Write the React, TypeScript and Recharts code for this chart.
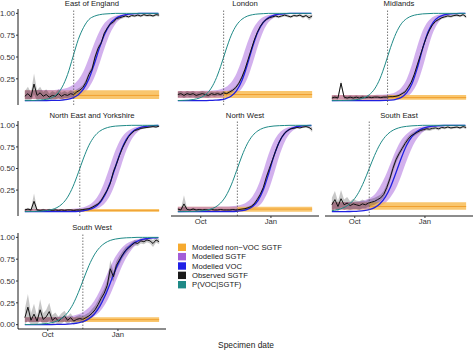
import React from 'react';
import { ComposedChart, Area, Line, XAxis, YAxis, ReferenceLine } from 'recharts';

// regions in facet order
const regions = [
  'East of England',
  'London',
  'Midlands',
  'North East and Yorkshire',
  'North West',
  'South East',
  'South West',
];

// days since 1 Sep 2020
const modelDays = [0, 7, 14, 21, 28, 35, 42, 49, 56, 63, 70, 77, 84, 91, 98, 105, 112, 119, 126, 133, 140, 147, 154, 161, 168, 175];
const obsDays = [
  0, 4, 8, 12, 16, 20, 24, 28, 32, 36, 40, 44, 48, 52, 56, 60, 64, 68, 72, 76, 80, 84, 88,
  92, 96, 100, 104, 108, 112, 116, 120, 124, 128, 132, 136, 140, 144, 148, 152, 156, 160,
  164, 168, 172, 176,
];
const axisDays = [30, 122];
const axisLabels = ['Oct', 'Jan'];
const yTicks = [0, 0.25, 0.5, 0.75, 1];

// dotted line: date the VOC is seeded
const introDay = [64, 60, 73, 72, 78, 49, 76];

const nonVocLo = [0.02, 0.03, 0.01, 0, 0, 0.023, 0.03];
const nonVocMid = [0.06, 0.07, 0.035, 0.012, 0.03, 0.06, 0.057];
const nonVocHi = [0.12, 0.11, 0.065, 0.03, 0.058, 0.108, 0.084];

const pVocSgtf = [
  [0, 0.001, 0.003, 0.007, 0.015, 0.033, 0.074, 0.157, 0.3, 0.5, 0.7, 0.84, 0.93, 0.967, 0.985, 0.993, 0.997, 1, 1, 1, 1, 1, 1, 1, 1, 1],
  [0.001, 0.003, 0.006, 0.014, 0.029, 0.06, 0.121, 0.23, 0.39, 0.58, 0.75, 0.866, 0.933, 0.968, 0.985, 0.993, 0.997, 1, 1, 1, 1, 1, 1, 1, 1, 1],
  [0, 0.001, 0.002, 0.003, 0.007, 0.015, 0.032, 0.067, 0.134, 0.25, 0.42, 0.61, 0.77, 0.88, 0.94, 0.971, 0.986, 0.994, 0.997, 1, 1, 1, 1, 1, 1, 1],
  [0.001, 0.002, 0.003, 0.006, 0.012, 0.024, 0.047, 0.091, 0.168, 0.289, 0.45, 0.622, 0.769, 0.87, 0.931, 0.964, 0.982, 0.991, 0.995, 0.998, 1, 1, 1, 1, 1, 1],
  [0, 0.001, 0.002, 0.003, 0.007, 0.013, 0.027, 0.052, 0.1, 0.182, 0.31, 0.475, 0.646, 0.786, 0.881, 0.937, 0.968, 0.984, 0.992, 0.996, 0.998, 1, 1, 1, 1, 1],
  [0.012, 0.022, 0.041, 0.074, 0.131, 0.221, 0.348, 0.5, 0.652, 0.779, 0.869, 0.926, 0.959, 0.978, 0.988, 0.994, 0.997, 1, 1, 1, 1, 1, 1, 1, 1, 1],
  [0.001, 0.002, 0.003, 0.006, 0.012, 0.022, 0.042, 0.077, 0.137, 0.232, 0.366, 0.523, 0.677, 0.799, 0.883, 0.935, 0.965, 0.981, 0.99, 0.995, 0.997, 1, 1, 1, 1, 1],
];

const modelledVoc = [
  [0, 0, 0, 0, 0.001, 0.002, 0.003, 0.007, 0.015, 0.032, 0.067, 0.134, 0.25, 0.42, 0.61, 0.77, 0.88, 0.94, 0.971, 0.986, 0.994, 0.997, 1, 1, 1, 1],
  [0, 0, 0, 0, 0, 0.001, 0.002, 0.005, 0.01, 0.024, 0.053, 0.115, 0.23, 0.41, 0.618, 0.79, 0.897, 0.953, 0.979, 0.991, 0.996, 1, 1, 1, 1, 1],
  [0, 0, 0, 0, 0, 0, 0, 0, 0, 0.001, 0.003, 0.006, 0.015, 0.037, 0.088, 0.193, 0.373, 0.596, 0.786, 0.901, 0.958, 0.982, 0.993, 0.997, 1, 1],
  [0, 0, 0, 0, 0, 0, 0, 0, 0.001, 0.002, 0.005, 0.011, 0.023, 0.049, 0.1, 0.193, 0.341, 0.527, 0.707, 0.839, 0.918, 0.96, 0.981, 0.991, 0.996, 0.998],
  [0, 0, 0, 0, 0, 0, 0, 0, 0, 0.001, 0.002, 0.005, 0.012, 0.027, 0.06, 0.128, 0.253, 0.44, 0.646, 0.808, 0.907, 0.958, 0.981, 0.992, 0.996, 0.998],
  [0, 0, 0.001, 0.002, 0.003, 0.006, 0.012, 0.024, 0.047, 0.091, 0.168, 0.289, 0.45, 0.622, 0.769, 0.87, 0.931, 0.964, 0.982, 0.991, 0.995, 0.998, 1, 1, 1, 1],
  [0, 0, 0, 0, 0, 0.001, 0.002, 0.003, 0.006, 0.011, 0.02, 0.038, 0.069, 0.121, 0.206, 0.327, 0.478, 0.632, 0.763, 0.858, 0.919, 0.955, 0.976, 0.987, 0.993, 0.996],
];

const sgtfLo = [
  [0.02, 0.02, 0.02, 0.02, 0.02, 0.021, 0.022, 0.023, 0.027, 0.035, 0.051, 0.086, 0.151, 0.265, 0.432, 0.618, 0.775, 0.882, 0.941, 0.972, 0.986, 0.994, 0.997, 1, 1, 1],
  [0.03, 0.03, 0.03, 0.03, 0.03, 0.03, 0.031, 0.032, 0.035, 0.04, 0.053, 0.081, 0.142, 0.253, 0.428, 0.629, 0.796, 0.9, 0.954, 0.98, 0.991, 0.996, 1, 1, 1, 1],
  [0.01, 0.01, 0.01, 0.01, 0.01, 0.01, 0.01, 0.01, 0.01, 0.01, 0.011, 0.013, 0.016, 0.025, 0.047, 0.097, 0.201, 0.379, 0.6, 0.788, 0.902, 0.958, 0.982, 0.993, 0.997, 1],
  [0, 0, 0, 0, 0, 0, 0, 0, 0, 0.001, 0.002, 0.005, 0.011, 0.023, 0.049, 0.1, 0.193, 0.341, 0.527, 0.707, 0.839, 0.918, 0.96, 0.981, 0.991, 0.996],
  [0, 0, 0, 0, 0, 0, 0, 0, 0, 0, 0.001, 0.002, 0.005, 0.012, 0.027, 0.06, 0.128, 0.253, 0.44, 0.646, 0.808, 0.907, 0.958, 0.981, 0.992, 0.996],
  [0.023, 0.023, 0.023, 0.024, 0.025, 0.026, 0.029, 0.035, 0.046, 0.065, 0.1, 0.17, 0.27, 0.42, 0.59, 0.74, 0.85, 0.92, 0.96, 0.98, 0.99, 0.995, 0.998, 1, 1, 1],
  [0.03, 0.03, 0.03, 0.03, 0.03, 0.03, 0.031, 0.032, 0.033, 0.036, 0.041, 0.049, 0.067, 0.097, 0.147, 0.23, 0.347, 0.494, 0.643, 0.77, 0.862, 0.921, 0.956, 0.976, 0.987, 0.993],
];

const sgtfHi = [
  [0.12, 0.12, 0.12, 0.121, 0.122, 0.123, 0.126, 0.133, 0.148, 0.179, 0.238, 0.34, 0.49, 0.657, 0.798, 0.894, 0.947, 0.974, 0.988, 0.995, 0.997, 1, 1, 1, 1, 1],
  [0.11, 0.11, 0.11, 0.11, 0.111, 0.112, 0.114, 0.119, 0.131, 0.157, 0.212, 0.315, 0.475, 0.66, 0.813, 0.908, 0.958, 0.981, 0.992, 0.996, 1, 1, 1, 1, 1, 1],
  [0.065, 0.065, 0.065, 0.065, 0.065, 0.065, 0.065, 0.065, 0.066, 0.068, 0.071, 0.079, 0.1, 0.147, 0.245, 0.414, 0.622, 0.8, 0.907, 0.961, 0.983, 0.993, 0.997, 1, 1, 1],
  [0.03, 0.03, 0.03, 0.03, 0.03, 0.03, 0.03, 0.031, 0.032, 0.035, 0.041, 0.052, 0.078, 0.127, 0.217, 0.361, 0.541, 0.716, 0.844, 0.92, 0.961, 0.982, 0.991, 0.996, 0.998, 1],
  [0.058, 0.058, 0.058, 0.058, 0.058, 0.058, 0.058, 0.058, 0.059, 0.06, 0.063, 0.069, 0.083, 0.115, 0.179, 0.296, 0.472, 0.667, 0.819, 0.912, 0.96, 0.982, 0.992, 0.996, 0.998, 1],
  [0.108, 0.109, 0.11, 0.111, 0.113, 0.119, 0.129, 0.155, 0.2, 0.29, 0.41, 0.56, 0.71, 0.83, 0.9, 0.95, 0.972, 0.985, 0.992, 0.996, 0.998, 1, 1, 1, 1, 1],
  [0.084, 0.084, 0.084, 0.084, 0.085, 0.086, 0.087, 0.089, 0.094, 0.102, 0.119, 0.147, 0.195, 0.273, 0.384, 0.522, 0.663, 0.783, 0.87, 0.926, 0.959, 0.978, 0.988, 0.994, 0.996, 0.998],
];

const observedSgtf = [
  [0.05, 0.08, 0.04, 0.19, 0.06, 0.09, 0.05, 0.07, 0.04, 0.06, 0.05, 0.08, 0.05, 0.07, 0.06, 0.08, 0.07, 0.1, 0.12, 0.15, 0.21, 0.3, 0.36, 0.5, 0.6, 0.66, 0.77, 0.83, 0.88, 0.9, 0.94, 0.95, 0.96, 0.97, 0.96, 0.975, 0.97, 0.98, 0.97, 0.985, 0.975, 0.98, 0.97, 0.985, 0.98],
  [0.07, 0.08, 0.06, 0.08, 0.07, 0.08, 0.06, 0.07, 0.08, 0.07, 0.06, 0.08, 0.07, 0.08, 0.07, 0.09, 0.08, 0.1, 0.12, 0.15, 0.2, 0.27, 0.36, 0.47, 0.58, 0.69, 0.78, 0.85, 0.9, 0.93, 0.95, 0.96, 0.97, 0.96, 0.97, 0.98, 0.97, 0.96, 0.975, 0.97, 0.98, 0.96, 0.975, 0.95, 0.97],
  [0.03, 0.04, 0.03, 0.2, 0.04, 0.03, 0.04, 0.03, 0.04, 0.03, 0.04, 0.035, 0.04, 0.035, 0.04, 0.04, 0.035, 0.04, 0.04, 0.045, 0.045, 0.05, 0.06, 0.08, 0.1, 0.15, 0.21, 0.3, 0.41, 0.52, 0.63, 0.73, 0.81, 0.87, 0.91, 0.93, 0.95, 0.96, 0.97, 0.965, 0.975, 0.98, 0.97, 0.985, 0.96],
  [0.02, 0.03, 0.02, 0.12, 0.02, 0.015, 0.02, 0.015, 0.02, 0.015, 0.02, 0.015, 0.02, 0.015, 0.02, 0.02, 0.015, 0.02, 0.02, 0.025, 0.03, 0.035, 0.05, 0.07, 0.09, 0.13, 0.19, 0.25, 0.33, 0.46, 0.55, 0.65, 0.74, 0.81, 0.87, 0.91, 0.94, 0.95, 0.965, 0.97, 0.975, 0.98, 0.985, 0.98, 0.99],
  [0.03, 0.02, 0.09, 0.025, 0.02, 0.03, 0.02, 0.025, 0.02, 0.025, 0.02, 0.025, 0.02, 0.02, 0.025, 0.02, 0.02, 0.02, 0.025, 0.02, 0.025, 0.03, 0.035, 0.045, 0.06, 0.09, 0.14, 0.2, 0.28, 0.4, 0.5, 0.6, 0.7, 0.79, 0.86, 0.91, 0.94, 0.96, 0.965, 0.975, 0.97, 0.98, 0.985, 0.975, 0.95],
  [0.08, 0.14, 0.06, 0.15, 0.08, 0.1, 0.07, 0.09, 0.08, 0.07, 0.09, 0.08, 0.1, 0.11, 0.12, 0.14, 0.16, 0.2, 0.28, 0.38, 0.5, 0.6, 0.67, 0.73, 0.79, 0.84, 0.88, 0.9, 0.92, 0.94, 0.95, 0.96, 0.955, 0.965, 0.97, 0.96, 0.975, 0.97, 0.98, 0.97, 0.975, 0.98, 0.97, 0.985, 0.975],
  [0.08, 0.2, 0.05, 0.12, 0.04, 0.17, 0.06, 0.09, 0.15, 0.05, 0.08, 0.04, 0.07, 0.1, 0.05, 0.08, 0.04, 0.06, 0.07, 0.06, 0.08, 0.1, 0.13, 0.17, 0.23, 0.3, 0.36, 0.45, 0.64, 0.55, 0.68, 0.74, 0.8, 0.85, 0.88, 0.91, 0.94, 0.93, 0.96, 0.95, 0.97, 0.96, 0.93, 0.97, 0.95],
];

// half-width of the observed 95% interval
const observedSpread = [
  [0.06, 0.08, 0.05, 0.12, 0.06, 0.07, 0.05, 0.06, 0.04, 0.05, 0.04, 0.05, 0.04, 0.04, 0.03, 0.04, 0.03, 0.03, 0.03, 0.03, 0.03, 0.03, 0.03, 0.03, 0.03, 0.02, 0.02, 0.02, 0.02, 0.02, 0.02, 0.02, 0.02, 0.015, 0.015, 0.015, 0.015, 0.015, 0.015, 0.015, 0.015, 0.015, 0.015, 0.015, 0.02],
  [0.03, 0.03, 0.03, 0.03, 0.03, 0.03, 0.03, 0.03, 0.03, 0.03, 0.025, 0.025, 0.025, 0.025, 0.02, 0.02, 0.02, 0.02, 0.02, 0.02, 0.02, 0.02, 0.02, 0.02, 0.02, 0.02, 0.015, 0.015, 0.015, 0.015, 0.015, 0.015, 0.015, 0.015, 0.015, 0.015, 0.015, 0.015, 0.015, 0.015, 0.015, 0.02, 0.015, 0.03, 0.02],
  [0.02, 0.02, 0.02, 0.03, 0.02, 0.02, 0.02, 0.02, 0.02, 0.02, 0.02, 0.015, 0.015, 0.015, 0.015, 0.015, 0.015, 0.015, 0.015, 0.015, 0.015, 0.015, 0.015, 0.015, 0.02, 0.02, 0.02, 0.02, 0.02, 0.02, 0.02, 0.02, 0.02, 0.015, 0.015, 0.015, 0.015, 0.015, 0.015, 0.015, 0.015, 0.015, 0.015, 0.015, 0.02],
  [0.015, 0.015, 0.015, 0.09, 0.015, 0.01, 0.015, 0.01, 0.015, 0.01, 0.01, 0.01, 0.01, 0.01, 0.01, 0.01, 0.01, 0.01, 0.01, 0.01, 0.01, 0.01, 0.015, 0.015, 0.015, 0.02, 0.02, 0.02, 0.025, 0.03, 0.025, 0.02, 0.02, 0.02, 0.015, 0.015, 0.015, 0.01, 0.01, 0.01, 0.01, 0.01, 0.01, 0.01, 0.01],
  [0.015, 0.015, 0.1, 0.015, 0.01, 0.015, 0.01, 0.01, 0.01, 0.01, 0.01, 0.01, 0.01, 0.01, 0.01, 0.01, 0.01, 0.01, 0.01, 0.01, 0.01, 0.01, 0.01, 0.015, 0.015, 0.015, 0.02, 0.02, 0.02, 0.025, 0.025, 0.02, 0.02, 0.02, 0.015, 0.015, 0.015, 0.01, 0.01, 0.01, 0.01, 0.01, 0.01, 0.015, 0.03],
  [0.08, 0.1, 0.06, 0.1, 0.06, 0.07, 0.05, 0.06, 0.05, 0.05, 0.05, 0.04, 0.04, 0.04, 0.04, 0.04, 0.04, 0.04, 0.04, 0.04, 0.04, 0.04, 0.03, 0.03, 0.03, 0.03, 0.025, 0.025, 0.02, 0.02, 0.02, 0.02, 0.02, 0.02, 0.015, 0.02, 0.015, 0.015, 0.015, 0.015, 0.015, 0.015, 0.015, 0.015, 0.02],
  [0.1, 0.15, 0.08, 0.12, 0.06, 0.12, 0.07, 0.08, 0.1, 0.06, 0.06, 0.05, 0.06, 0.06, 0.05, 0.05, 0.04, 0.04, 0.04, 0.04, 0.04, 0.04, 0.05, 0.05, 0.05, 0.05, 0.05, 0.06, 0.1, 0.06, 0.05, 0.05, 0.04, 0.04, 0.03, 0.03, 0.03, 0.03, 0.03, 0.03, 0.025, 0.03, 0.04, 0.03, 0.03],
];

const legendLabels = ['Modelled non\u2212VOC SGTF', 'Modelled SGTF', 'Modelled VOC', 'Observed SGTF', 'P(VOC|SGTF)'];
const legendColors = ['#F6AA2F', '#A35ED8', '#2020E6', '#1A1A1A', '#1F8A87'];

const FONT = '"Liberation Sans", Arial, Helvetica, sans-serif';
const COL_X = [18, 171, 325];
const ROW_Y = [8.5, 120.5, 232.5];
const ROW_H = [96, 95, 96];
const PLOT_W = 148;
const Y_AXIS_W = 28;
const X_AXIS_H = 14;

const slots = [
  { col: 0, row: 0, left: true, bottom: false },
  { col: 1, row: 0, left: false, bottom: false },
  { col: 2, row: 0, left: false, bottom: false },
  { col: 0, row: 1, left: true, bottom: false },
  { col: 1, row: 1, left: false, bottom: true },
  { col: 2, row: 1, left: false, bottom: true },
  { col: 0, row: 2, left: true, bottom: true },
];

const Panel: React.FC<{ r: number }> = ({ r }) => {
  const slot = slots[r];
  const w = PLOT_W + (slot.left ? Y_AXIS_W : 0);
  const h = ROW_H[slot.row] + (slot.bottom ? X_AXIS_H : 0);

  const model = modelDays.map((d, i) => ({
    d,
    voc: modelledVoc[r][i],
    p: pVocSgtf[r][i],
    sgtf: [sgtfLo[r][i], sgtfHi[r][i]],
  }));
  const obs = obsDays.map((d, i) => {
    const v = observedSgtf[r][i];
    const s = observedSpread[r][i];
    return { d, obs: v, ci: [Math.max(0, v - s), Math.min(1, v + s)] };
  });
  const band = [nonVocLo[r], nonVocHi[r]];
  const lastDay = obsDays[obsDays.length - 1];
  const pre = [{ d: 0, nv: band }, { d: introDay[r], nv: band }];
  const post = [
    { d: introDay[r], nv: band, mid: nonVocMid[r] },
    { d: lastDay, nv: band, mid: nonVocMid[r] },
  ];

  return (
    <div style={{ position: 'absolute', left: COL_X[slot.col] - (slot.left ? Y_AXIS_W : 0), top: ROW_Y[slot.row] }}>
      <ComposedChart width={w} height={h} margin={{ top: 0, right: 0, bottom: 0, left: 0 }}>
        <XAxis
          type="number"
          dataKey="d"
          domain={[-9, 185]}
          allowDataOverflow
          ticks={axisDays}
          tickFormatter={(v: number) => axisLabels[axisDays.indexOf(v)] ?? ''}
          hide={!slot.bottom}
          height={X_AXIS_H}
          tickSize={2}
          tickMargin={1}
          axisLine={{ stroke: '#000', strokeWidth: 0.9 }}
          tickLine={{ stroke: '#333' }}
          tick={{ fontSize: 7.7, fill: '#333', fontFamily: FONT }}
        />
        <YAxis
          type="number"
          domain={[-0.05, 1.05]}
          allowDataOverflow
          ticks={yTicks}
          tickFormatter={(v: number) => v.toFixed(2)}
          hide={!slot.left}
          width={Y_AXIS_W}
          tickSize={2}
          tickMargin={1}
          axisLine={{ stroke: '#000', strokeWidth: 0.9 }}
          tickLine={{ stroke: '#333' }}
          tick={{ fontSize: 7.7, fill: '#333', fontFamily: FONT }}
        />
        <Area data={pre} dataKey="nv" type="linear" stroke="none" fill="#F5A623" fillOpacity={0.55} isAnimationActive={false} />
        <Area data={model} dataKey="sgtf" type="monotone" stroke="none" fill="#9B4FD6" fillOpacity={0.45} isAnimationActive={false} />
        <Area data={post} dataKey="nv" type="linear" stroke="none" fill="#F7B84A" fillOpacity={0.8} isAnimationActive={false} />
        <Line data={post} dataKey="mid" type="linear" stroke="#F0A030" strokeWidth={1} dot={false} activeDot={false} isAnimationActive={false} />
        <Line data={model} dataKey="voc" type="monotone" stroke="#2020E0" strokeWidth={1.3} dot={false} activeDot={false} isAnimationActive={false} />
        <Area data={obs} dataKey="ci" type="linear" stroke="none" fill="#000" fillOpacity={0.22} isAnimationActive={false} />
        <Line data={obs} dataKey="obs" type="linear" stroke="#111" strokeWidth={1} dot={false} activeDot={false} isAnimationActive={false} />
        <Line data={model} dataKey="p" type="monotone" stroke="#1F8A87" strokeWidth={1} dot={false} activeDot={false} isAnimationActive={false} />
        <ReferenceLine x={introDay[r]} stroke="#555" strokeWidth={0.8} strokeDasharray="1.5 1.5" />
      </ComposedChart>
    </div>
  );
};

export default function App() {
  return (
    <div style={{ position: 'absolute', left: 0, top: 0, width: 474, height: 350, overflow: 'hidden', background: '#fff', fontFamily: FONT }}>
      {regions.map((_, r) => (
        <Panel key={r} r={r} />
      ))}
      <svg width={474} height={350} style={{ position: 'absolute', left: 0, top: 0, pointerEvents: 'none' }}>
        {regions.map((name, r) => {
          const s = slots[r];
          return (
            <text key={name} x={COL_X[s.col] + PLOT_W / 2} y={ROW_Y[s.row] - 2.5} textAnchor="middle" fontSize={7.7} fill="#1a1a1a" fontFamily={FONT}>
              {name}
            </text>
          );
        })}
        {legendLabels.map((label, i) => {
          const cy = 247.3 + i * 9.35;
          return (
            <g key={label}>
              <rect x={178} y={cy - 3.7} width={8} height={7.4} fill={legendColors[i]} />
              <text x={192} y={cy + 2.7} fontSize={7.7} fill="#1a1a1a" fontFamily={FONT}>
                {label}
              </text>
            </g>
          );
        })}
        <text x={246} y={348} textAnchor="middle" fontSize={8.4} fill="#1a1a1a" fontFamily={FONT}>
          Specimen date
        </text>
      </svg>
    </div>
  );
}
